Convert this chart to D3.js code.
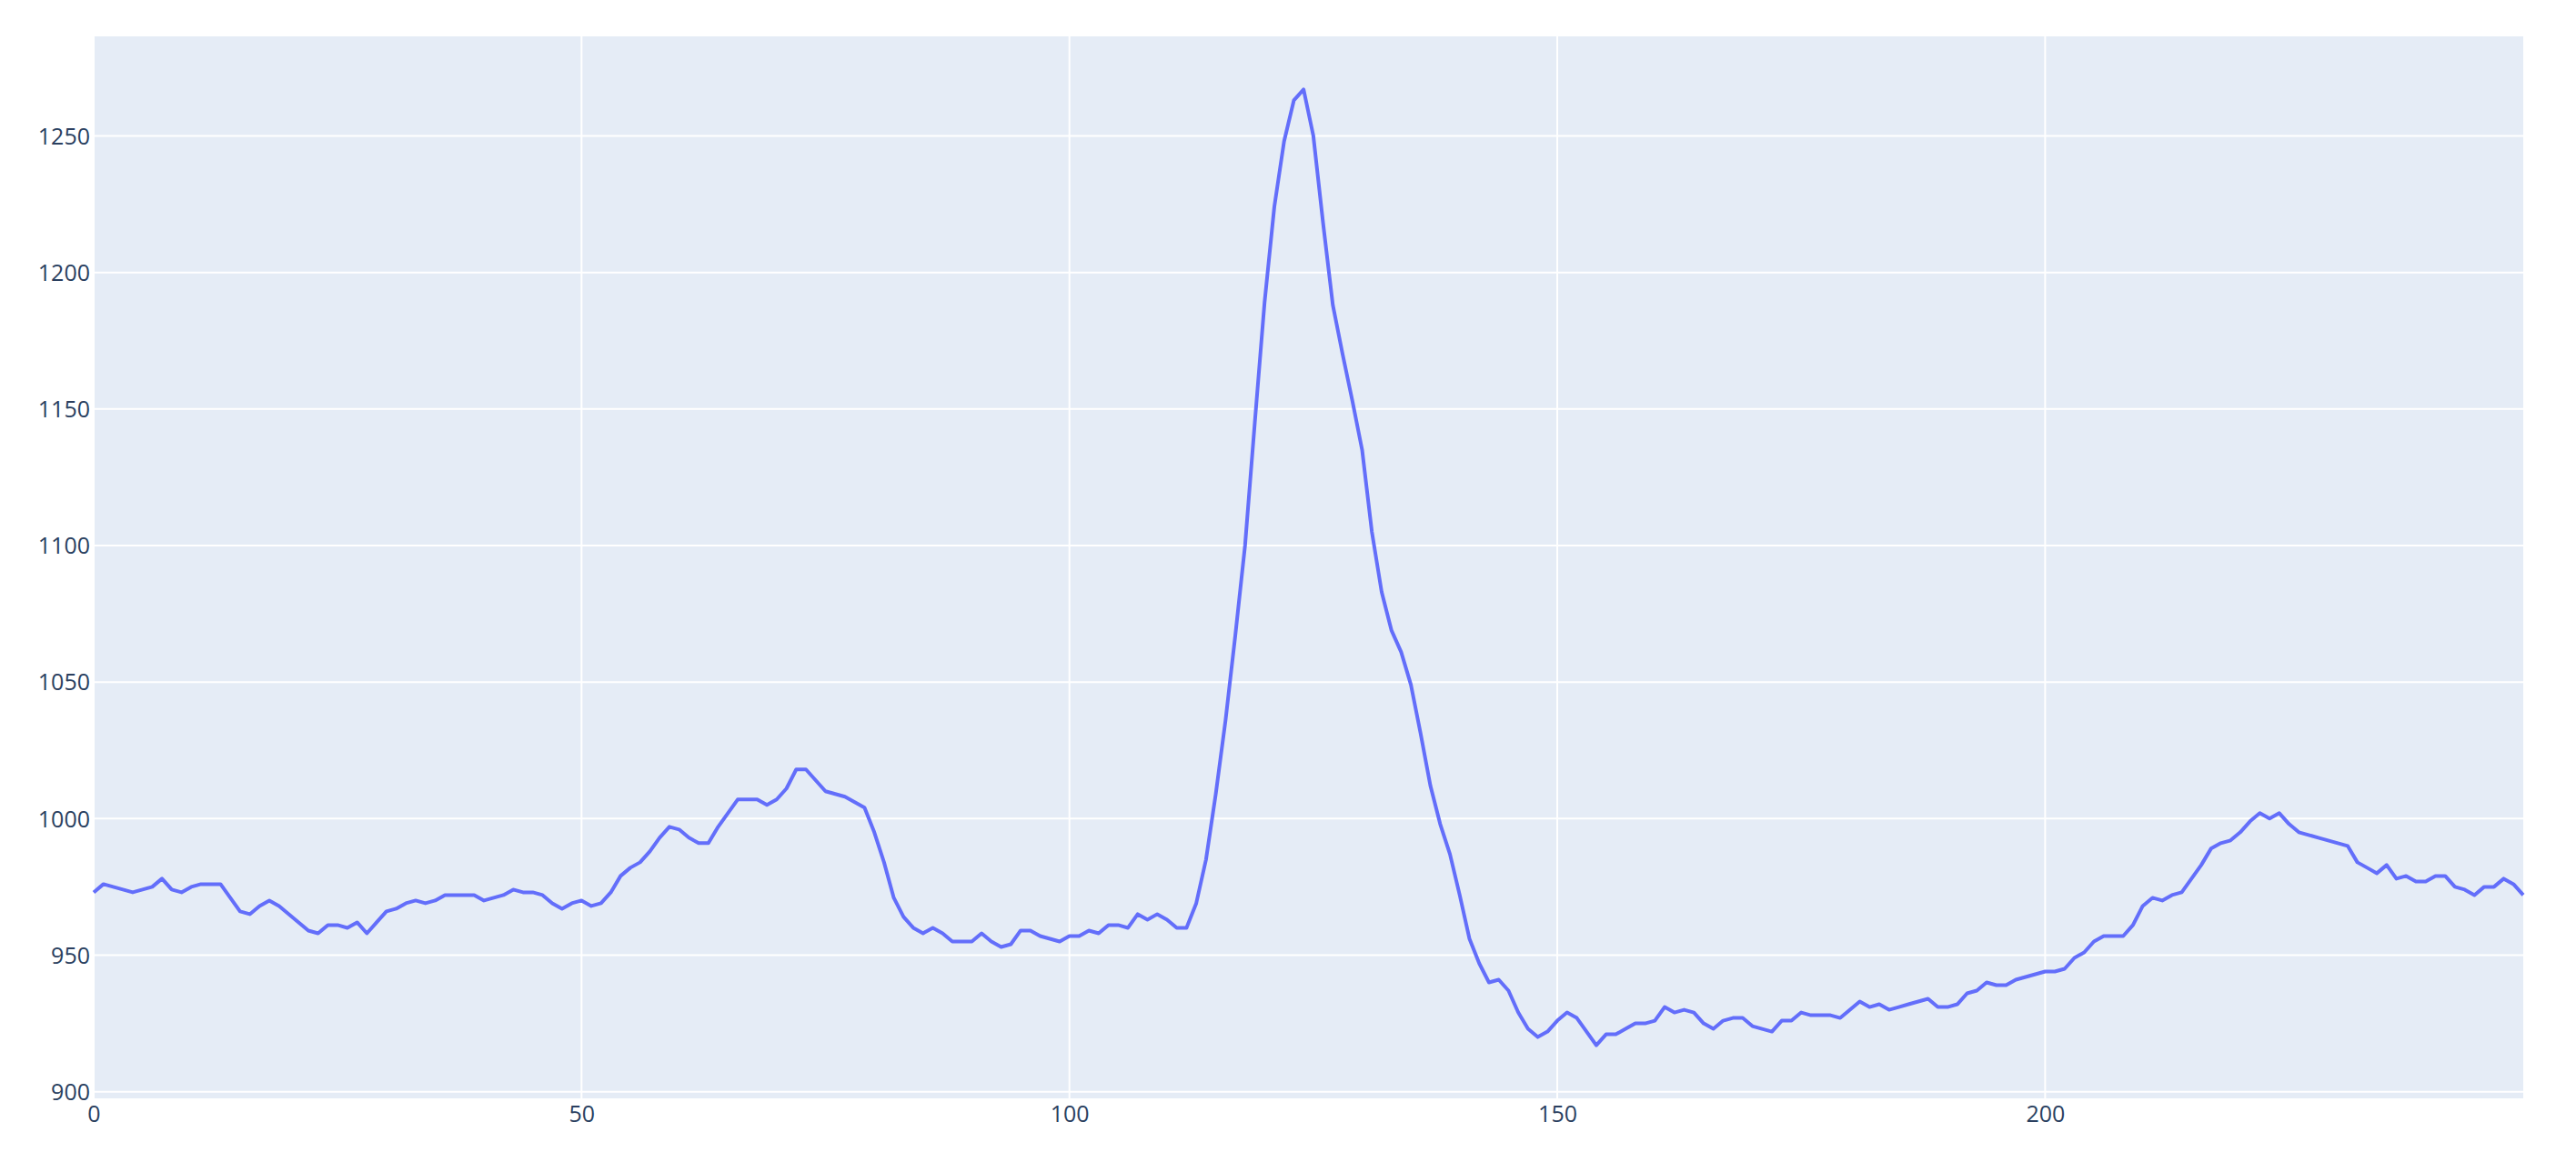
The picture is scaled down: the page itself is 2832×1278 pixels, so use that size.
<!DOCTYPE html>
<html>
<head>
<meta charset="utf-8">
<script src="https://cdn.jsdelivr.net/npm/d3@7"></script>
<style>
  body { margin: 0; background: #fff; }
  .tick text { font-family: "Open Sans", verdana, arial, sans-serif; font-size: 25px; fill: #2a3f5f; }
</style>
</head>
<body>
<div id="chart"></div>
<script>
// series values, one per index 0..249
var values = [
  973, 976, 975, 974, 973, 974, 975, 978, 974, 973,
  975, 976, 976, 976, 971, 966, 965, 968, 970, 968,
  965, 962, 959, 958, 961, 961, 960, 962, 958, 962,
  966, 967, 969, 970, 969, 970, 972, 972, 972, 972,
  970, 971, 972, 974, 973, 973, 972, 969, 967, 969,
  970, 968, 969, 973, 979, 982, 984, 988, 993, 997,
  996, 993, 991, 991, 997, 1002, 1007, 1007, 1007, 1005,
  1007, 1011, 1018, 1018, 1014, 1010, 1009, 1008, 1006, 1004,
  995, 984, 971, 964, 960, 958, 960, 958, 955, 955,
  955, 958, 955, 953, 954, 959, 959, 957, 956, 955,
  957, 957, 959, 958, 961, 961, 960, 965, 963, 965,
  963, 960, 960, 969, 985, 1009, 1036, 1067, 1100, 1145,
  1189, 1224, 1248, 1263, 1267, 1250, 1218, 1188, 1170, 1153,
  1135, 1105, 1083, 1069, 1061, 1049, 1031, 1012, 998, 987,
  972, 956, 947, 940, 941, 937, 929, 923, 920, 922,
  926, 929, 927, 922, 917, 921, 921, 923, 925, 925,
  926, 931, 929, 930, 929, 925, 923, 926, 927, 927,
  924, 923, 922, 926, 926, 929, 928, 928, 928, 927,
  930, 933, 931, 932, 930, 931, 932, 933, 934, 931,
  931, 932, 936, 937, 940, 939, 939, 941, 942, 943,
  944, 944, 945, 949, 951, 955, 957, 957, 957, 961,
  968, 971, 970, 972, 973, 978, 983, 989, 991, 992,
  995, 999, 1002, 1000, 1002, 998, 995, 994, 993, 992,
  991, 990, 984, 982, 980, 983, 978, 979, 977, 977,
  979, 979, 975, 974, 972, 975, 975, 978, 976, 972
];

// tick labels
var xTicks = [0, 50, 100, 150, 200];
var yTicks = [900, 950, 1000, 1050, 1100, 1150, 1200, 1250];

var margin = {top: 40, right: 58, bottom: 70, left: 103},
    width = 2832 - margin.left - margin.right,
    height = 1278 - margin.top - margin.bottom;

var data = values.map(function(v, i) { return {x: i, y: v}; });

var x = d3.scaleLinear()
    .domain([0, values.length - 1])
    .range([0, width]);

// pad the y range by 5% of the plot height on each side
var ext = d3.extent(values),
    pad = 0.05 * height,
    perPx = (ext[1] - ext[0]) / (height - 2 * pad);
var y = d3.scaleLinear()
    .domain([ext[0] - pad * perPx, ext[1] + pad * perPx])
    .range([height, 0]);

var svg = d3.select("#chart").append("svg")
    .attr("width", width + margin.left + margin.right)
    .attr("height", height + margin.top + margin.bottom)
  .append("g")
    .attr("transform", "translate(" + margin.left + "," + margin.top + ")");

svg.append("rect")
    .attr("width", width)
    .attr("height", height)
    .attr("fill", "#e5ecf6");

// grid
svg.append("g")
    .attr("class", "grid")
    .selectAll("line.h")
    .data(yTicks)
    .enter().append("line")
    .attr("x1", 0)
    .attr("x2", width)
    .attr("y1", function(d) { return y(d); })
    .attr("y2", function(d) { return y(d); })
    .attr("stroke", "#fff")
    .attr("stroke-width", 2);

svg.select(".grid")
    .selectAll("line.v")
    .data(xTicks)
    .enter().append("line")
    .attr("y1", 0)
    .attr("y2", height)
    .attr("x1", function(d) { return x(d); })
    .attr("x2", function(d) { return x(d); })
    .attr("stroke", "#fff")
    .attr("stroke-width", 2);

// axes (labels only)
var xAxis = svg.append("g")
    .attr("transform", "translate(0," + height + ")")
    .call(d3.axisBottom(x).tickValues(xTicks).tickFormat(d3.format("d")).tickSize(0));

var yAxis = svg.append("g")
    .call(d3.axisLeft(y).tickValues(yTicks).tickFormat(d3.format("d")).tickSize(0).tickPadding(4));

svg.selectAll(".domain").remove();
xAxis.selectAll("text").attr("dy", null).attr("y", 26);
yAxis.selectAll("text").attr("dy", ".35em");

var line = d3.line()
    .x(function(d) { return x(d.x); })
    .y(function(d) { return y(d.y); });

svg.append("path")
    .datum(data)
    .attr("fill", "none")
    .attr("stroke", "#636efa")
    .attr("stroke-width", 4)
    .attr("stroke-linejoin", "round")
    .attr("d", line);
</script>
</body>
</html>
